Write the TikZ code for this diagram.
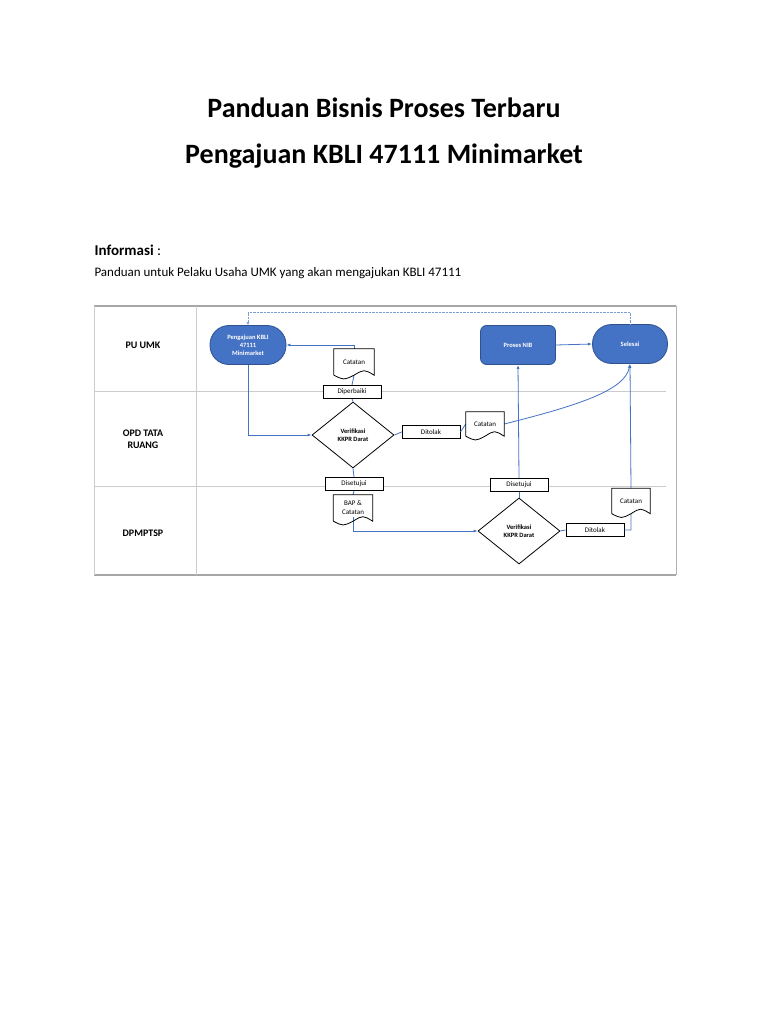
\documentclass[tikz,border=0pt]{standalone}
\usepackage{fontspec}
\setmainfont{Carlito}
\usetikzlibrary{shapes.geometric,arrows.meta}
\definecolor{bl}{HTML}{4472C4}
\definecolor{dk}{HTML}{2F528F}
\newcommand{\docshape}[1]{\draw[black,thick] (#1.south west) -- (#1.north west) -- (#1.north east) -- (#1.south east) .. controls ($(#1.south east)!0.5!(#1.south)+(0,-6)$) .. (#1.south) .. controls ($(#1.south)!0.5!(#1.south west)+(0,5)$) .. (#1.south west);}
\usetikzlibrary{calc}
\begin{document}
\begin{tikzpicture}[x=1pt,y=-1pt,
  lane/.style={font=\bfseries\fontsize{10}{12}\selectfont,align=center},
  term/.style={draw=dk,thick,fill=bl,text=white,font=\bfseries\fontsize{6.5}{8}\selectfont,align=center},
  lab/.style={draw,thick,fill=white,minimum width=58pt,minimum height=13pt,inner sep=0pt,font=\fontsize{7}{8}\selectfont},
  docn/.style={minimum width=40pt,inner sep=0pt,font=\fontsize{7}{9}\selectfont,align=center},
  dia/.style={diamond,draw,thick,fill=white,aspect=1.25,minimum width=82pt,minimum height=66pt,inner sep=0pt,font=\bfseries\fontsize{6.5}{8}\selectfont,align=center},
  conn/.style={draw=bl,thick},
  arr/.style={conn,-{Latex[length=4pt,width=3pt]}}]
\useasboundingbox (0,0) rectangle (768,1024);
\fill[white] (0,0) rectangle (768,1024);
\node[font=\bfseries\fontsize{28}{32}\selectfont] (t1) at (384,108) {Panduan Bisnis Proses Terbaru};
\node[font=\bfseries\fontsize{28}{32}\selectfont] (t2) at (384,156) {Pengajuan KBLI 47111 Minimarket};
\node[anchor=west,font=\fontsize{15}{18}\selectfont] (inf) at (91,250) {\textbf{Informasi} :};
\node[anchor=west,font=\fontsize{13}{16}\selectfont] (desc) at (91,273) {Panduan untuk Pelaku Usaha UMK yang akan mengajukan KBLI 47111};
% frame
\draw[gray!70,line width=1.2pt] (94,306) -- (676,306);
\draw[gray!70,line width=1.2pt] (94,575) -- (676,575);
\draw[gray!60,line width=0.8pt] (676,306) -- (676,575);
\draw[gray!40] (94,306) -- (94,575);
\draw[gray!40] (196,306) -- (196,575);
\draw[gray!40] (94,391) -- (666,391);
\draw[gray!40] (94,486) -- (666,486);
\node[lane] (l1) at (143,345) {PU UMK};
\node[lane] (l2) at (143,439) {OPD TATA\\RUANG};
\node[lane] (l3) at (143,533) {DPMPTSP};
% nodes
\node[term,rounded corners=19pt,minimum width=76pt,minimum height=39pt,inner sep=1pt] (pj) at (248,345) {Pengajuan KBLI\\47111\\Minimarket};
\node[docn,minimum height=26pt] (c1) at (354,362) {Catatan};
\node[lab] (dp) at (352,392) {Diperbaiki};
\node[dia] (d1) at (353,435) {Verifikasi\\KKPR Darat};
\node[lab] (dt1) at (431,432) {Ditolak};
\node[docn,minimum width=38pt,minimum height=24pt] (c2) at (485,424) {Catatan};
\node[term,rounded corners=6pt,minimum width=75pt,minimum height=39pt] (nib) at (518,345) {Proses NIB};
\node[term,rounded corners=19pt,minimum width=75pt,minimum height=39pt] (sl) at (630,344) {Selesai};
\node[lab] (ds1) at (354,484) {Disetujui};
\node[docn,minimum width=39pt,minimum height=26pt] (bap) at (353,508) {BAP \&\\Catatan};
\node[lab] (ds2) at (519,485) {Disetujui};
\node[dia] (d2) at (519,531) {Verifikasi\\KKPR Darat};
\node[lab] (dt2) at (595,530) {Ditolak};
\node[docn,minimum width=38pt,minimum height=25pt] (c3) at (631,501) {Catatan};
% connectors
\draw[arr] (pj.south) |- (d1.west);
\draw[conn] (d1.north) -- (dp.south);
\draw[conn] (dp.north) -- (c1.south);
\draw[arr] (c1.north) |- (pj.east);
\draw[conn] (d1.east) -- (dt1.west);
\draw[conn] (dt1.east) -- (c2.west);
\draw[arr] (c2.east) .. controls (580,405) and (625,390) .. (sl.south);
\draw[conn] (d1.south) -- (ds1.north);
\draw[conn] (ds1.south) -- (bap.north);
\draw[arr] ([yshift=4pt]bap.south) |- (d2.west);
\draw[conn] (d2.north) -- (ds2.south);
\draw[arr] (ds2.north) -- (nib.south);
\draw[conn] (d2.east) -- (dt2.west);
\draw[arr] (dt2.east) -| (c3.south) (c3.north) -- (sl.south);
\draw[arr] (nib.east) -- (sl.west);
\coordinate (tr) at (630,312);
\coordinate (tl) at (248,312);
\draw[bl!70,densely dotted,-{Latex[length=3pt,width=3pt]}] (sl.north) -- (tr) -- (tl) -- (pj.north);
\docshape{c1}\docshape{c2}\docshape{bap}\docshape{c3}
\end{tikzpicture}
\end{document}
